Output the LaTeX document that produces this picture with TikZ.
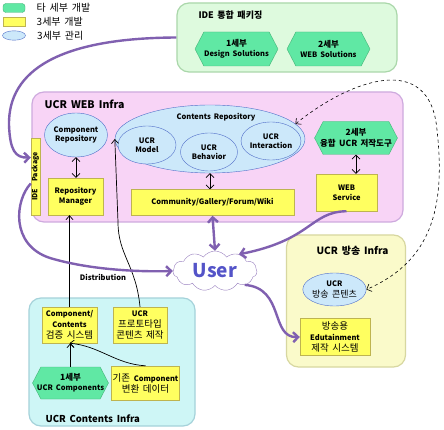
\documentclass[tikz,border=0pt]{standalone}
\usepackage{fontspec}
\setmainfont{Noto Sans CJK KR}[WordSpace=1.7]
\usepackage{amsmath}
\usetikzlibrary{shapes,arrows.meta,positioning}

\definecolor{hexgreen}{RGB}{96,232,164}
\definecolor{hexline}{RGB}{70,180,120}
\definecolor{boxyellow}{RGB}{255,255,96}
\definecolor{boxline}{RGB}{190,180,80}
\definecolor{ellblue}{RGB}{204,232,250}
\definecolor{ellline}{RGB}{80,110,200}
\definecolor{webpink}{RGB}{248,212,246}
\definecolor{webline}{RGB}{206,170,222}
\definecolor{idegreen}{RGB}{222,250,222}
\definecolor{ideline}{RGB}{170,215,170}
\definecolor{cntcyan}{RGB}{206,246,246}
\definecolor{cntline}{RGB}{165,210,218}
\definecolor{bcyellow}{RGB}{250,250,202}
\definecolor{bcline}{RGB}{215,215,160}
\definecolor{flowpurple}{RGB}{128,96,176}
\definecolor{userblue}{RGB}{84,84,200}

\newcommand{\en}[1]{\textbf{\fontsize{7.5}{10}\selectfont #1}}

\tikzset{
  area/.style={rectangle, rounded corners=12pt, line width=1.2pt},
  areattl/.style={anchor=west, font=\fontsize{9.5}{11}\selectfont\bfseries},
  hexa/.style={signal, signal to=east and west, signal pointer angle=125,
    draw=hexline, fill=hexgreen, align=center, inner sep=0pt,
    font=\fontsize{7.5}{10}\selectfont\bfseries},
  yelbox/.style={rectangle, draw=boxline, fill=boxyellow, align=center,
    inner sep=0pt, font=\fontsize{9.5}{11}\selectfont},
  ellnode/.style={ellipse, draw=ellline, fill=ellblue, align=center,
    inner sep=0pt, font=\fontsize{7.5}{9.5}\selectfont\bfseries},
  legtxt/.style={font=\fontsize{10}{11}\selectfont, anchor=west},
  twoway/.style={{Straight Barb[length=4pt,width=8pt]}-{Straight Barb[length=4pt,width=8pt]}, line width=0.7pt},
  oneway/.style={-{Straight Barb[length=4pt,width=7pt]}, line width=0.7pt},
  flow/.style={draw=flowpurple, line width=2.4pt, -{Straight Barb[length=5pt,width=10pt]}},
}

\begin{document}
\begin{tikzpicture}[x=1pt,y=-1pt]
\path[use as bounding box, fill=white] (0,0) rectangle (444,430);

% legend
\node[rectangle, rounded corners=3pt, draw=hexline, fill=hexgreen, minimum width=22, minimum height=9] (leg1) at (14,8) {};
\node[rectangle, draw=boxline, fill=boxyellow, minimum width=22, minimum height=9] (leg2) at (14,21.5) {};
\node[ellipse, draw=ellline, fill=ellblue, minimum width=23, minimum height=9] (leg3) at (14,35.5) {};
\node[legtxt, right=8pt of leg1] (leg1t) {타 세부 개발};
\node[legtxt, right=8pt of leg2] (leg2t) {3세부 개발};
\node[legtxt, right=8pt of leg3] (leg3t) {3세부 관리};

% areas
\node[area, draw=ideline, fill=idegreen, minimum width=220, minimum height=69] (ide) at (287,37.5) {};
\node[area, draw=webline, fill=webpink, minimum width=371, minimum height=130] (web) at (217.5,157) {};
\node[area, draw=cntline, fill=cntcyan, minimum width=166, minimum height=128] (cnt) at (112,362) {};
\node[area, draw=bcline, fill=bcyellow, minimum width=119, minimum height=132] (bc) at (346,301) {};
\node[areattl, font=\fontsize{9}{10}\selectfont\bfseries] (idettl) at (195,15) {IDE 통합 패키징};
\node[areattl, font=\fontsize{10.5}{12}\selectfont\bfseries] (webttl) at (41,104) {UCR WEB Infra};
\node[areattl] (cntttl) at (42,419) {UCR Contents Infra};
\node[areattl, font=\fontsize{10}{11}\selectfont\bfseries] (bcttl) at (313,251) {UCR 방송 Infra};

% IDE packaging
\node[hexa, minimum width=83, minimum height=34] (design) at (236.5,49) {{\fontsize{8.5}{10}\selectfont 1세부}\\Design Solutions};
\node[hexa, minimum width=83, minimum height=34] (websol) at (328.5,49) {{\fontsize{8.5}{10}\selectfont 2세부}\\WEB Solutions};

% WEB infra
\node[yelbox, minimum width=9, minimum height=77, font=\fontsize{7}{7}\selectfont\bfseries] (idepkg) at (35.5,176.5) {\rotatebox{90}{IDE\quad Package}};
\node[ellnode, minimum width=52, minimum height=44] (comprepo) at (76,135) {Component\\Repository};
\node[yelbox, minimum width=55, minimum height=37, font=\fontsize{7.5}{10}\selectfont\bfseries] (repomgr) at (75.5,196.5) {Repository\\Manager};
\node[ellnode, minimum width=190, minimum height=68] (cntrepo) at (210,139) {};
\node[font=\fontsize{7.5}{8}\selectfont\bfseries] (cntrepot) at (216,117) {Contents Repository};
\node[ellnode, minimum width=58, minimum height=38] (ucrmodel) at (147,145) {UCR\\Model};
\node[ellnode, minimum width=57, minimum height=38] (ucrbehav) at (209,152) {UCR\\Behavior};
\node[ellnode, minimum width=58, minimum height=38] (ucrinter) at (271,141) {UCR\\Interaction};
\node[yelbox, minimum width=163, minimum height=26, font=\fontsize{7.5}{8}\selectfont\bfseries] (community) at (212.5,202.5) {Community/Gallery/Forum/Wiki};
\node[hexa, minimum width=82, minimum height=33, inner xsep=-3pt, font=\fontsize{8.5}{10.5}\selectfont\bfseries] (fusion) at (356,138) {2세부\\융합 UCR 저작도구};
\node[yelbox, minimum width=61, minimum height=37, font=\fontsize{7.5}{10}\selectfont\bfseries] (websvc) at (346.5,192.5) {WEB\\Service};

% user
\node[cloud, cloud puffs=11, cloud puff arc=110, aspect=2.2, draw=flowpurple!80, fill=white,
  minimum width=84, minimum height=40, inner sep=0pt, text=userblue,
  font=\fontsize{19}{20}\selectfont\bfseries] (user) at (215,271) {User};
\node[font=\fontsize{7.5}{8}\selectfont\bfseries] (distlbl) at (103,277) {Distribution};

% contents infra
\node[yelbox, minimum width=55, minimum height=36] (verify) at (69.5,325) {\en{Component/}\\\en{Contents}\\검증 시스템};
\node[yelbox, minimum width=54, minimum height=36] (proto) at (140,325) {\en{UCR}\\프로토타입\\콘텐츠 제작};
\node[hexa, minimum width=68, minimum height=32, inner xsep=-4pt] (ucrcomp) at (70.5,383) {{\fontsize{8.5}{10}\selectfont 1세부}\\UCR Components};
\node[yelbox, minimum width=68, minimum height=34] (legacy) at (145.5,383) {기존 \en{Component}\\변환 데이터};

% broadcast infra
\node[ellnode, minimum width=56, minimum height=33, font=\fontsize{9}{10.5}\selectfont] (bccont) at (334.5,289.5) {\en{UCR}\\방송 콘텐츠};
\node[yelbox, minimum width=70, minimum height=37] (edu) at (335,337) {방송용\\\en{Edutainment}\\제작 시스템};

% connectors
\draw[twoway] (comprepo.south) -- (comprepo.south |- repomgr.north);
\draw[twoway] (cntrepo.south) -- (cntrepo.south |- community.north);
\draw[twoway] (fusion.south) -- (fusion.south |- websvc.north);
\draw[oneway] (verify.north) -- (verify.north |- repomgr.south);
\draw[oneway] (proto.north) .. controls (136,265) and (118,255) .. (118,222) -- (cntrepo.west);
\draw[oneway] (ucrcomp.north) -- (ucrcomp.north |- verify.south);
\draw[oneway] (legacy.north) .. controls (115,364) and (100,346) .. (verify.south);
\draw[twoway, dashed, line width=0.6pt] (cntrepo.10) .. controls (350,80) and (430,50) .. (437,130)
  .. controls (446,210) and (430,262) .. (bccont.east);

\draw[flow, {Straight Barb[length=5pt,width=10pt]}-{Straight Barb[length=5pt,width=10pt]}] (community.south) -- (user.north);
\draw[flow] (websvc.south) .. controls (310,212) and (312,240) .. (user.35);
\draw[flow] (ide.west) .. controls (60,38) and (8,70) .. (9,125)
  .. controls (10,150) and (15,158) .. ([yshift=19pt]idepkg.west);
\draw[flow] ([yshift=-7pt]idepkg.west) .. controls (15,200) and (10,245) .. (50,258)
  .. controls (90,270) and (140,272) .. (user.west);
\draw[flow] (user.-25) .. controls (285,288) and (270,338) .. (edu.west);
\end{tikzpicture}
\end{document}
